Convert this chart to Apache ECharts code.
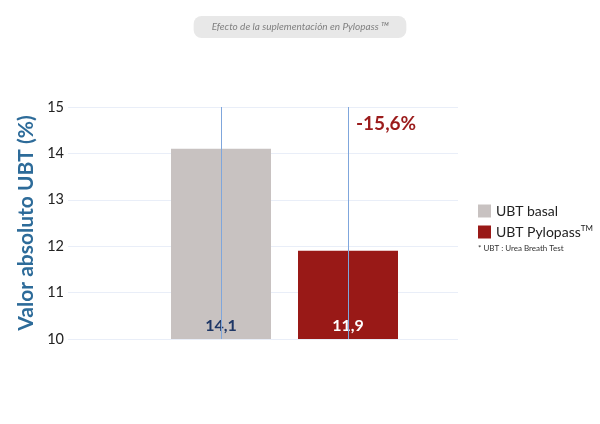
<!DOCTYPE html>
<html><head><meta charset="utf-8">
<script src="https://cdn.jsdelivr.net/npm/echarts@6/dist/echarts.min.js"></script>
<style>html,body{margin:0;padding:0;background:#fff}#c{width:600px;height:424px}</style>
</head><body><div id="c"></div>
<script>
const categories = ['UBT basal', 'UBT Pylopass'];
const basalValues = [14.1, '-'];
const pylopassValues = ['-', 11.9];
const yTicks = [10, 11, 12, 13, 14, 15];
const changeLabel = '-15,6%';
const titleText = 'Efecto de la suplementación en Pylopass ᵀᴹ';
const yName = 'Valor absoluto UBT (%)';
const noteText = '* UBT : Urea Breath Test';

const FONT = 'Lato';
const chart = echarts.init(document.getElementById('c'));
const fmt = v => String(v).replace('.', ',');
chart.setOption({
  animation: false,
  textStyle: { fontFamily: FONT },
  title: {
    text: titleText, left: 'center', top: 16,
    backgroundColor: '#e8e8e8', borderRadius: 8,
    padding: [6, 18, 6, 18],
    textStyle: { fontSize: 10, fontStyle: 'italic', fontWeight: 'normal', color: '#808080', fontFamily: FONT }
  },
  legend: {
    orient: 'vertical', left: 473, top: 199, itemGap: 6,
    itemWidth: 13, itemHeight: 13, icon: 'rect',
    data: categories,
    formatter: n => n === 'UBT Pylopass' ? '{a|UBT Pylopass}{s|TM}' : '{a|' + n + '}',
    textStyle: {
      rich: {
        a: { fontSize: 14, color: '#222', fontFamily: FONT },
        s: { fontSize: 8, color: '#222', verticalAlign: 'top', padding: [0, 0, 8, 0], fontFamily: FONT }
      }
    }
  },
  graphic: [
    { type: 'text', left: 478, top: 244, style: { text: noteText, fontSize: 8, fill: '#333', fontFamily: FONT } },
    { type: 'text', left: 356, top: 114, style: { text: changeLabel, fontSize: 19, fontWeight: 'bold', fill: '#9b1c1c', fontFamily: FONT } }
  ],
  grid: [
    { left: 68, right: 142, top: 107, bottom: 85 },
    { left: 157.5, width: 254, top: 107, bottom: 85 }
  ],
  xAxis: [
    { gridIndex: 0, type: 'value', show: false, min: 0, max: 1 },
    { gridIndex: 1, type: 'category', data: categories, show: false }
  ],
  yAxis: [
    {
      gridIndex: 0, type: 'value', min: 10, max: 15, interval: 1,
      name: yName, nameLocation: 'middle', nameGap: 30, nameRotate: 90,
      nameTextStyle: { fontSize: 21, fontWeight: 'bold', color: '#2d6b99', fontFamily: FONT },
      axisLine: { show: false }, axisTick: { show: false },
      axisLabel: { fontSize: 14.5, color: '#222', margin: 4, fontFamily: FONT },
      splitLine: { lineStyle: { color: '#e9eef8', width: 1 } }
    },
    { gridIndex: 1, type: 'value', min: 10, max: 15, interval: 1, show: false, splitLine: { show: false } }
  ],
  series: [
    {
      name: 'UBT basal', type: 'bar', xAxisIndex: 1, yAxisIndex: 1,
      data: basalValues, barWidth: 100, barGap: '-100%',
      itemStyle: { color: '#c8c2c1' },
      label: { show: true, position: 'insideBottom', distance: 5, formatter: p => fmt(p.value),
               fontSize: 16, fontWeight: 'bold', color: '#1f3766', fontFamily: FONT },
      markLine: {
        silent: true, symbol: 'none', label: { show: false }, z: 5,
        lineStyle: { color: '#7fa6dc', width: 1, type: 'solid' },
        data: categories.map(c => ({ xAxis: c }))
      },
      z: 2
    },
    {
      name: 'UBT Pylopass', type: 'bar', xAxisIndex: 1, yAxisIndex: 1,
      data: pylopassValues, barWidth: 100, barGap: '-100%',
      itemStyle: { color: '#991917' },
      label: { show: true, position: 'insideBottom', distance: 5, formatter: p => fmt(p.value),
               fontSize: 16, fontWeight: 'bold', color: '#fff', fontFamily: FONT },
      z: 2
    }
  ]
});
</script></body></html>
